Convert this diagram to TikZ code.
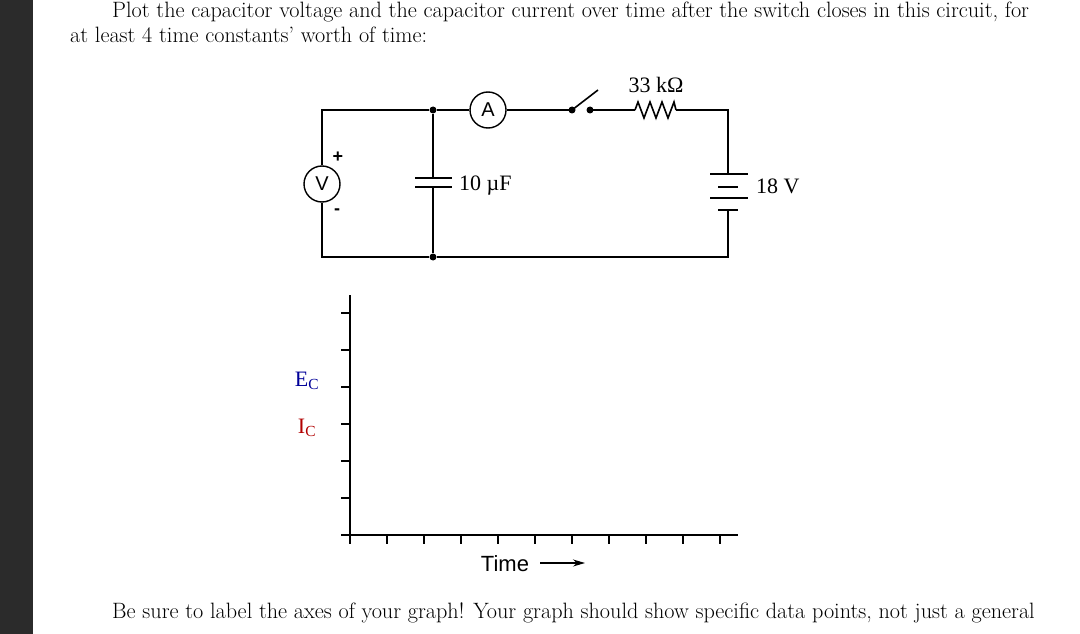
\documentclass[tikz,border=0pt]{standalone}
\usepackage{fontspec}
\newfontfamily\tms{Liberation Serif}
\newfontfamily\arl{Liberation Sans}
\usetikzlibrary{arrows.meta}
\begin{document}
\begin{tikzpicture}[x=1pt,y=-1pt,
  w/.style={line width=1.6pt},
  dot/.style={circle,fill,inner sep=0pt,minimum size=7pt},
  meter/.style={circle,draw,line width=1.4pt,minimum size=36pt,inner sep=0pt,font=\arl\fontsize{20}{20}\selectfont},
  para/.style={anchor=base west,inner sep=0pt,font=\fontsize{22.2}{24}\selectfont},
  lbl/.style={inner sep=0pt,font=\tms\fontsize{22}{22}\selectfont},
  tick/.style={line width=1.5pt}]
\useasboundingbox[fill=white] (0,0) rectangle (1080,634);
\fill[black!83] (0,0) rectangle (33,634);
% text
\node[para] (t1) at (112,18) {Plot the capacitor voltage and the capacitor current over time after the switch closes in this circuit, for};
\node[para] (t2) at (70,43) {at least 4 time constants' worth of time:};
\node[para] (t3) at (112,618) {Be sure to label the axes of your graph! Your graph should show specific data points, not just a general};
% circuit
\coordinate (tl) at (322,110); \coordinate (bl) at (322,257);
\coordinate (tr) at (728,110); \coordinate (br) at (728,257);
\node[dot] (nt) at (433,110) {};
\node[dot] (nb) at (433,257) {};
\node[meter] (A) at (488,110) {A};
\node[meter] (V) at (322,184) {V};
\node[dot] (s1) at (572,110) {};
\node[dot] (s2) at (590,110) {};
\coordinate (lev) at (598,90);
\coordinate (r1) at (635,110); \coordinate (r2) at (676,110);
\draw[w] (V.north) -- (tl) -- (nt) -- (A.west);
\draw[w] (A.east) -- (s1.center);
\draw[w] (s1.center) -- (lev);
\draw[w] (s2.center) -- (r1);
\draw[w,line join=miter] (r1) -- ++(3,-8) -- ++(6,16) -- ++(6,-16) -- ++(6,16) -- ++(6,-16) -- ++(6,16) -- ++(6,-16) -- (r2);
\draw[w] (r2) -- (tr) -- (728,174);
\draw[w] (728,210) -- (br) -- (nb) -- (bl) -- (V.south);
% battery
\draw[w] (710,174) -- (748,174);
\draw[w] (718,187) -- (738,187);
\draw[w] (710,198) -- (748,198);
\draw[w] (718,210) -- (738,210);
% capacitor
\draw[w] (nt) -- (433,178);
\draw[w] (433,187) -- (nb);
\draw[w] (415,178) -- (452,178);
\draw[w] (415,187) -- (452,187);
\node[lbl,anchor=west] (cl) at (459,186) {10 µF};
\node[lbl] (rl) at (656,85) {33 kΩ};
\node[lbl,anchor=west] (bl2) at (756,186) {18 V};
\node[inner sep=0pt,font=\arl\bfseries\fontsize{18}{18}\selectfont] (pl) at (338,157) {+};
\node[inner sep=0pt,font=\arl\bfseries\fontsize{18}{18}\selectfont] (mi) at (337,212) {-};
% graph
\draw[tick] (350,295) -- (350,535);
\draw[tick] (341,535) -- (738,535);
\foreach \y in {313,350,387,424,461,498} \draw[tick] (341,\y) -- (350,\y);
\foreach \x in {350,387,424,461,498,535,572,609,646,683,720} \draw[tick] (\x,535) -- (\x,544);
\node[inner sep=0pt,font=\arl\fontsize{22}{22}\selectfont] (time) at (505,564) {Time};
\coordinate (a1) at (540,563); \coordinate (a2) at (585,563);
\draw[line width=1.1pt,-{Stealth[length=12pt,width=7pt]}] (a1) -- (a2);
\node[inner sep=0pt,text=blue!60!black,font=\tms\fontsize{22}{22}\selectfont] (ec) at (307,381) {E\textsubscript{C}};
\node[inner sep=0pt,text=red!70!black,font=\tms\fontsize{22}{22}\selectfont] (ic) at (307,428) {I\textsubscript{C}};
\end{tikzpicture}
\end{document}
